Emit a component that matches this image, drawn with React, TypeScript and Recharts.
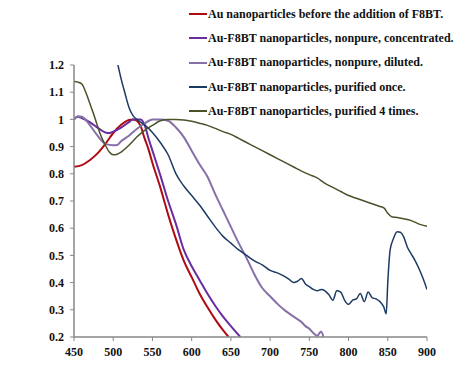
import React from "react";
import { Line, LineChart, XAxis, YAxis } from "recharts";

// wavelength (nm) / normalized absorbance pairs
const beforeF8BT: [number, number][] = [
  [450, 0.826], [460, 0.832], [470, 0.85], [480, 0.875], [490, 0.91], [500, 0.95],
  [510, 0.98], [520, 0.998], [525, 1.0], [530, 0.995], [535, 0.975], [540, 0.93],
  [545, 0.89], [550, 0.84], [560, 0.75], [570, 0.65], [580, 0.56], [590, 0.48],
  [600, 0.42], [610, 0.36], [620, 0.31], [630, 0.265], [640, 0.225], [647, 0.2],
];

const nonpureConc: [number, number][] = [
  [450, 1.0], [455, 1.01], [460, 1.005], [470, 0.99], [480, 0.97], [490, 0.952],
  [495, 0.95], [500, 0.955], [510, 0.97], [520, 0.99], [525, 1.0], [535, 1.0],
  [540, 0.98], [545, 0.93], [550, 0.885], [560, 0.795], [570, 0.7], [580, 0.615],
  [590, 0.52], [600, 0.46], [610, 0.41], [620, 0.36], [630, 0.315], [640, 0.275],
  [650, 0.24], [662, 0.2],
];

const nonpureDil: [number, number][] = [
  [450, 1.0], [455, 1.012], [460, 1.01], [470, 0.98], [480, 0.94], [490, 0.91],
  [500, 0.905], [505, 0.906], [510, 0.92], [520, 0.94], [530, 0.965], [540, 0.985],
  [550, 1.0], [560, 1.0], [570, 0.995], [580, 0.97], [590, 0.935], [600, 0.885],
  [610, 0.835], [620, 0.79], [630, 0.725], [640, 0.665], [650, 0.605], [660, 0.545],
  [670, 0.49], [680, 0.43], [690, 0.38], [700, 0.35], [710, 0.32], [720, 0.295],
  [730, 0.275], [740, 0.255], [745, 0.24], [750, 0.23], [755, 0.215], [760, 0.205],
  [765, 0.22], [768, 0.2],
];

const purifiedOnce: [number, number][] = [
  [506, 1.2], [510, 1.15], [515, 1.096], [520, 1.045], [525, 1.015], [530, 1.0],
  [535, 0.99], [540, 0.98], [550, 0.952], [560, 0.915], [570, 0.87], [580, 0.8],
  [590, 0.755], [600, 0.72], [610, 0.685], [620, 0.645], [630, 0.605], [640, 0.57],
  [650, 0.545], [660, 0.52], [670, 0.5], [680, 0.48], [690, 0.465], [700, 0.445],
  [710, 0.435], [720, 0.42], [725, 0.41], [730, 0.4], [735, 0.405], [740, 0.415],
  [745, 0.395], [750, 0.385], [755, 0.375], [760, 0.37], [765, 0.375], [770, 0.37],
  [775, 0.355], [780, 0.335], [785, 0.37], [790, 0.365], [795, 0.335], [800, 0.32],
  [805, 0.335], [810, 0.34], [815, 0.36], [820, 0.33], [825, 0.365], [830, 0.345],
  [835, 0.34], [840, 0.33], [845, 0.31], [848, 0.285], [850, 0.4], [853, 0.52],
  [857, 0.56], [862, 0.587], [866, 0.585], [870, 0.57], [875, 0.53], [880, 0.505],
  [885, 0.48], [890, 0.45], [895, 0.415], [900, 0.375],
];

const purified4: [number, number][] = [
  [450, 1.139], [455, 1.137], [460, 1.13], [465, 1.1], [470, 1.06], [475, 1.02],
  [480, 0.975], [485, 0.935], [490, 0.905], [495, 0.88], [500, 0.87], [505, 0.872],
  [510, 0.88], [520, 0.905], [530, 0.935], [540, 0.96], [550, 0.978], [560, 0.995],
  [570, 1.0], [580, 1.0], [590, 0.998], [600, 0.993], [610, 0.986], [620, 0.978],
  [630, 0.967], [640, 0.955], [650, 0.945], [660, 0.93], [670, 0.915], [680, 0.9],
  [690, 0.885], [700, 0.87], [710, 0.855], [720, 0.84], [730, 0.825], [740, 0.81],
  [750, 0.797], [760, 0.785], [770, 0.765], [780, 0.75], [790, 0.735], [800, 0.72],
  [810, 0.71], [820, 0.7], [830, 0.69], [840, 0.68], [845, 0.675], [850, 0.655],
  [855, 0.642], [860, 0.64], [870, 0.635], [880, 0.628], [890, 0.615], [900, 0.607],
];

const xTicks = [450, 500, 550, 600, 650, 700, 750, 800, 850, 900];
const yTicks = [0.2, 0.3, 0.4, 0.5, 0.6, 0.7, 0.8, 0.9, 1, 1.1, 1.2];

const SERIES = [
  { name: "Au nanoparticles before the addition of F8BT.", data: beforeF8BT, color: "#b00a12", width: 2 },
  { name: "Au-F8BT nanoparticles, nonpure, concentrated.", data: nonpureConc, color: "#6a2c9e", width: 2 },
  { name: "Au-F8BT nanoparticles, nonpure, diluted.", data: nonpureDil, color: "#8670a8", width: 2 },
  { name: "Au-F8BT nanoparticles, purified once.", data: purifiedOnce, color: "#1d3a63", width: 1.5 },
  { name: "Au-F8BT nanoparticles, purified 4 times.", data: purified4, color: "#4b5129", width: 1.5 },
];

const FONT = "'Times New Roman', 'Liberation Serif', 'DejaVu Serif', serif";
const AXIS = "#878787";

function LegendBox() {
  return (
    <div
      style={{
        position: "absolute",
        left: 189,
        top: 2,
        fontFamily: FONT,
        fontWeight: "bold",
        fontSize: 12,
        color: "#111",
      }}
    >
      {SERIES.map((s) => (
        <div key={s.name} style={{ display: "flex", alignItems: "center", height: 24.3 }}>
          <span style={{ display: "inline-block", width: 18, height: 2, background: s.color, marginRight: 1 }} />
          <span style={{ whiteSpace: "nowrap" }}>{s.name}</span>
        </div>
      ))}
    </div>
  );
}

export default function App() {
  const tickStyle = { fontFamily: FONT, fontWeight: "bold", fontSize: 12, fill: "#111" };
  return (
    <div style={{ position: "absolute", left: 0, top: 0, width: 474, height: 389, background: "#fff" }}>
      <LineChart width={474} height={389} margin={{ top: 65, right: 47, left: 0, bottom: 0 }}>
        <XAxis
          type="number"
          dataKey="x"
          domain={[450, 900]}
          ticks={xTicks}
          allowDataOverflow
          height={52}
          tick={tickStyle}
          tickSize={4}
          tickMargin={6}
          axisLine={{ stroke: AXIS, strokeWidth: 1.5 }}
          tickLine={{ stroke: AXIS }}
        />
        <YAxis
          type="number"
          dataKey="y"
          domain={[0.2, 1.2]}
          ticks={yTicks}
          allowDataOverflow
          width={74}
          tick={tickStyle}
          tickSize={4}
          tickMargin={6}
          axisLine={{ stroke: AXIS, strokeWidth: 1.5 }}
          tickLine={{ stroke: AXIS }}
        />
        {SERIES.map((s) => (
          <Line
            key={s.name}
            name={s.name}
            data={s.data.map(([x, y]) => ({ x, y }))}
            dataKey="y"
            type="monotone"
            stroke={s.color}
            strokeWidth={s.width}
            dot={false}
            isAnimationActive={false}
          />
        ))}
      </LineChart>
      <LegendBox />
    </div>
  );
}
